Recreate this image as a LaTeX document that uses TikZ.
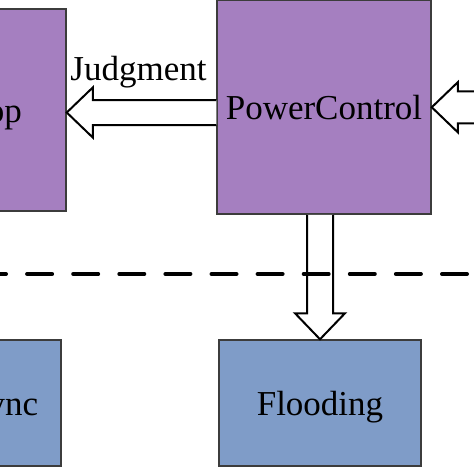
\documentclass[tikz,border=0pt]{standalone}
\usepackage{fontspec}
\setmainfont{Liberation Serif}
\usetikzlibrary{calc}
\definecolor{boxpurple}{HTML}{A57FC0}
\definecolor{boxblue}{HTML}{7F9CC8}
\definecolor{boxline}{HTML}{3C3C3C}
\tikzset{
    module/.style={draw=boxline, line width=1.5pt, inner sep=0pt, text height=24pt, text depth=0pt},
    upper/.style={module, fill=boxpurple},
    lower/.style={module, fill=boxblue},
    blockarrow/.style={draw=black, line width=2pt, fill=white, line join=miter},
}
\begin{document}
\begin{tikzpicture}[x=1pt, y=-1pt, font=\fontsize{35}{42}\selectfont]
    \newcommand{\headlen}{26}
    \newcommand{\headhalf}{25}
    \useasboundingbox (0,0) rectangle (474,474);
    \clip (0,0) rectangle (474,474);
    \node[upper, minimum width=123, minimum height=202] (hop) at (4.5,110) {op};
    \node[upper, minimum width=214, minimum height=213.5] (pc) at (324,107.25) {PowerControl};
    \node[lower, minimum width=96, minimum height=126] (sync) at (13,403) {ync};
    \node[lower, minimum width=202, minimum height=126] (flood) at (320,403) {Flooding};
    \node[anchor=base] (judg) at (138.5,80) {Judgment};
    % judgment arrow
    \coordinate (jtip) at (hop.east |- 0,112.5);
    \coordinate (jend) at (pc.west |- 0,112.5);
    \draw[blockarrow] ($(jend)+(0,-12.5)$) -- ($(jtip)+(\headlen,-12.5)$) -- ($(jtip)+(\headlen,-\headhalf)$)
        -- (jtip) -- ($(jtip)+(\headlen,\headhalf)$) -- ($(jtip)+(\headlen,12.5)$) -- ($(jend)+(0,12.5)$);
    % incoming arrow
    \coordinate (itip) at (pc.east);
    \draw[blockarrow] ($(itip)+(80,-16)$) -- ($(itip)+(\headlen,-16)$) -- ($(itip)+(\headlen,-\headhalf)$)
        -- (itip) -- ($(itip)+(\headlen,\headhalf)$) -- ($(itip)+(\headlen,16)$) -- ($(itip)+(80,16)$);
    % down arrow
    \coordinate (ftip) at (flood.north);
    \coordinate (fend) at (flood.north |- pc.south);
    \draw[blockarrow] ($(fend)+(-13,0)$) -- ($(ftip)+(-13,-\headlen)$) -- ($(ftip)+(-\headhalf,-\headlen)$)
        -- (ftip) -- ($(ftip)+(\headhalf,-\headlen)$) -- ($(ftip)+(13,-\headlen)$) -- ($(fend)+(13,0)$);
    \draw[line width=4pt, line cap=round, dash pattern=on 25pt off 21.1pt] (-19,274) -- (500,274);
\end{tikzpicture}
\end{document}
